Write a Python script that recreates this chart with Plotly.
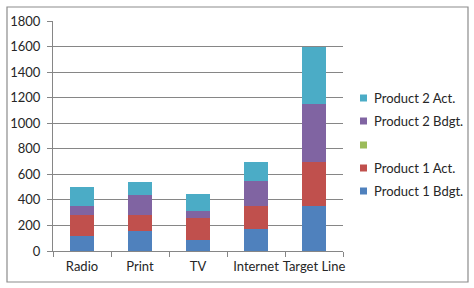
import plotly.graph_objects as go

categories = ["Radio", "Print", "TV", "Internet", "Target Line"]
p1_bdgt = [120, 160, 90, 175, 350]
p1_act = [165, 120, 165, 175, 350]
blank_series = [None, None, None, None, None]
p2_bdgt = [65, 160, 55, 195, 450]
p2_act = [150, 100, 135, 155, 450]

series_names = ["Product 1 Bdgt.", "Product 1 Act.", "", "Product 2 Bdgt.", "Product 2 Act."]
series_values = [p1_bdgt, p1_act, blank_series, p2_bdgt, p2_act]
series_colors = ["#4F81BD", "#C0504D", "#9BBB59", "#8064A2", "#4BACC6"]

FONT = "Lato, 'Liberation Sans', Arial, sans-serif"

fig = go.Figure()
for name, vals, col in zip(series_names, series_values, series_colors):
    fig.add_trace(go.Bar(x=categories, y=vals, name=name, marker=dict(color=col, line=dict(width=0)),
                         showlegend=False))

W, H = 474, 288
L, R, T, B = 53, 131, 21, 37
pw, ph = W - L - R, H - T - B

def px_to_paper_x(px):
    return (px - L) / pw

def px_to_paper_y(py):
    return (H - B - py) / ph

shapes = []
annotations = []
# chart border
shapes.append(dict(type="rect", xref="paper", yref="paper",
                   x0=px_to_paper_x(7), x1=px_to_paper_x(468),
                   y0=px_to_paper_y(282), y1=px_to_paper_y(7),
                   line=dict(color="#8c8c8c", width=1.2), fillcolor="rgba(0,0,0,0)", layer="below"))

# manual legend (reverse stacking order)
legend_y = [98, 121, 145, 168, 191]
for i, idx in enumerate([4, 3, 2, 1, 0]):
    cy = legend_y[i]
    shapes.append(dict(type="rect", xref="paper", yref="paper",
                       x0=px_to_paper_x(360), x1=px_to_paper_x(367),
                       y0=px_to_paper_y(cy + 3.5), y1=px_to_paper_y(cy - 3.5),
                       line=dict(width=0), fillcolor=series_colors[idx]))
    if series_names[idx]:
        annotations.append(dict(xref="paper", yref="paper", x=px_to_paper_x(372), y=px_to_paper_y(cy),
                                xanchor="left", yanchor="middle", showarrow=False,
                                text=series_names[idx], font=dict(family=FONT, size=13, color="#262626")))

fig.update_layout(
    barmode="stack",
    bargap=0.6,
    width=W, height=H,
    margin=dict(l=L, r=R, t=T, b=B, pad=0, autoexpand=False),
    paper_bgcolor="white",
    plot_bgcolor="white",
    font=dict(family=FONT, size=13, color="#262626"),
    showlegend=False,
    shapes=shapes,
    annotations=annotations,
    xaxis=dict(showgrid=False, showline=True, linecolor="#868686", linewidth=1,
               ticks="outside", tickson="boundaries", ticklen=5, tickcolor="#868686",
               tickfont=dict(size=13), tickangle=0, ticklabelstandoff=3,
               automargin=False, fixedrange=True),
    yaxis=dict(range=[0, 1800], dtick=200, showgrid=True, gridcolor="#868686", gridwidth=1,
               showline=True, linecolor="#868686", linewidth=1, zeroline=False,
               ticks="outside", ticklen=5, tickcolor="#868686", tickfont=dict(size=13),
               ticklabelstandoff=4, automargin=False, fixedrange=True),
)

fig.write_html("out.html")
